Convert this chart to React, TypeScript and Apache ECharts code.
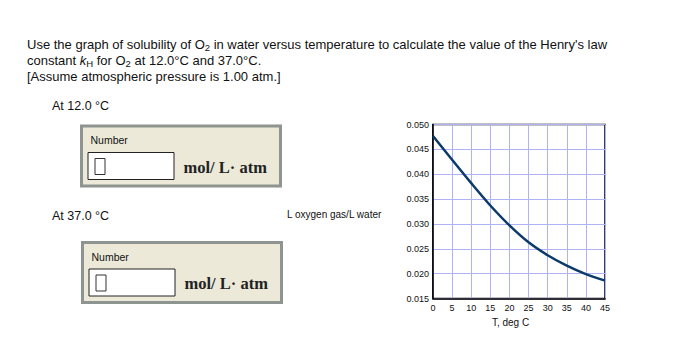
import React, { useEffect, useRef } from "react";
import * as echarts from "echarts";

const temperatures = [0, 5, 10, 15, 20, 25, 30, 35, 40, 45];
const solubility = [0.0477, 0.0429, 0.0382, 0.0337, 0.0297, 0.0263, 0.0237, 0.0216, 0.0199, 0.0186];
const yAxisTitle = "L oxygen gas/L water";
const xAxisTitle = "T, deg C";
const promptLine1 = "Use the graph of solubility of O{sub|2} in water versus temperature to calculate the value of the Henry's law";
const promptLine2 = "constant {i|k}{sub|H} for O{sub|2} at 12.0°C and 37.0°C.";
const promptLine3 = "[Assume atmospheric pressure is 1.00 atm.]";
const questionLabels = ["At 12.0 °C", "At 37.0 °C"];
const unitLabel = "mol/ L· atm";

const SANS = "'Liberation Sans', Arial, sans-serif";
const SERIF = "'Liberation Serif', 'Times New Roman', serif";

const richStyles = {
  sub: { fontSize: 9.5, lineHeight: 11, verticalAlign: "bottom", fontFamily: SANS, fill: "#111" },
  i: { fontSize: 13, lineHeight: 16, fontStyle: "italic", fontFamily: SANS, fill: "#111" },
};

function promptText(text: string, y: number, lineHeight: number) {
  return {
    type: "text",
    x: 27,
    y,
    style: {
      text,
      fontSize: 13,
      lineHeight,
      fontFamily: SANS,
      fill: "#111",
      align: "left",
      verticalAlign: "middle",
      rich: richStyles,
    },
  };
}

function answerBox(x: number, y: number) {
  return {
    type: "group",
    x,
    y,
    children: [
      { type: "rect", shape: { x: 0, y: 0, width: 199, height: 60 }, style: { fill: "#ece9d9", stroke: "#8e9590", lineWidth: 3 } },
      { type: "text", x: 9, y: 14, style: { text: "Number", fontSize: 10.5, fontFamily: SANS, fill: "#111", verticalAlign: "middle" } },
      { type: "rect", shape: { x: 6.5, y: 26.5, width: 86, height: 27 }, style: { fill: "#fff", stroke: "#222", lineWidth: 1 } },
      { type: "rect", shape: { x: 13.5, y: 32.5, width: 10, height: 16 }, style: { fill: "#fff", stroke: "#333", lineWidth: 1 } },
      { type: "text", x: 102, y: 41, style: { text: unitLabel, fontSize: 16.5, fontWeight: "bold", fontFamily: SERIF, fill: "#222", verticalAlign: "middle" } },
    ],
  };
}

export default function App() {
  const ref = useRef<HTMLDivElement>(null);
  useEffect(() => {
    if (!ref.current) return;
    const chart = echarts.init(ref.current, undefined, { renderer: "svg" });
    chart.setOption({
      animation: false,
      backgroundColor: "#fff",
      grid: {
        left: 433,
        top: 124.5,
        width: 172,
        height: 174,
        show: true,
        borderColor: "#000",
        borderWidth: 1.5,
        backgroundColor: "transparent",
      },
      xAxis: {
        type: "value",
        min: 0,
        max: 45,
        interval: 5,
        name: xAxisTitle,
        nameLocation: "middle",
        nameGap: 19,
        nameTextStyle: { fontSize: 10, fontFamily: SANS, color: "#111", padding: [0, 17, 0, 0] },
        axisLine: { show: true, lineStyle: { color: "#000", width: 1.5 } },
        axisTick: { show: false },
        axisLabel: { fontSize: 9, fontFamily: SANS, color: "#111", margin: 5 },
        splitLine: { show: true, lineStyle: { color: "#b0b2f6", width: 1 } },
      },
      yAxis: {
        type: "value",
        min: 0.015,
        max: 0.05,
        interval: 0.005,
        axisLine: { show: true, lineStyle: { color: "#000", width: 1.5 } },
        axisTick: { show: false },
        axisLabel: {
          fontSize: 9,
          fontFamily: SANS,
          color: "#111",
          margin: 4,
          formatter: (v: number) => v.toFixed(3),
        },
        splitLine: { show: true, lineStyle: { color: "#b0b2f6", width: 1 } },
      },
      series: [
        {
          type: "line",
          data: temperatures.map((t, i) => [t, solubility[i]]),
          smooth: 0.3,
          symbol: "none",
          lineStyle: { color: "#0b3a6b", width: 2.5 },
          clip: true,
        },
      ],
      graphic: [
        promptText(promptLine1, 44, 16),
        promptText(promptLine2, 60.5, 16),
        promptText(promptLine3, 76, 13),
        { type: "text", x: 52, y: 106, style: { text: questionLabels[0], fontSize: 12.5, fontFamily: SANS, fill: "#111", verticalAlign: "middle" } },
        { type: "text", x: 52, y: 216, style: { text: questionLabels[1], fontSize: 12.5, fontFamily: SANS, fill: "#111", verticalAlign: "middle" } },
        answerBox(81.5, 126),
        answerBox(82.5, 242.5),
        { type: "text", x: 287, y: 214, style: { text: yAxisTitle, fontSize: 10, fontFamily: SANS, fill: "#111", verticalAlign: "middle" } },
      ],
    });
    return () => chart.dispose();
  }, []);
  return <div ref={ref} style={{ position: "absolute", left: 0, top: 0, width: 680, height: 356 }} />;
}
